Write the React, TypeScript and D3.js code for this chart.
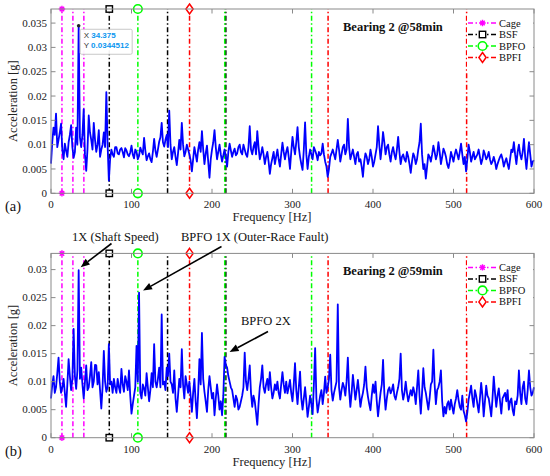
import React from "react";
import * as d3 from "d3";

// FFT bin spacing of both spectra [Hz]
const df = 1.5625;

// envelope spectrum, bearing 2 @58min (values in milli-g)
const accel58_mg = [
  6.1, 10.5, 13.5, 12.0, 16.4, 9.5, 11.0, 12.5, 14.3, 9.0, 7.0, 10.2, 8.8, 7.5, 10.5, 12.0,
  14.0, 9.5, 7.3, 8.5, 13.5, 10.0, 34.4512, 11.5, 9.5, 12.0, 17.3, 8.0, 4.6, 9.0, 16.0, 12.5,
  11.0, 9.0, 14.5, 11.0, 8.5, 10.0, 13.0, 7.5, 9.0, 10.0, 12.5, 9.5, 20.8, 10.0, 2.6, 7.0,
  9.0, 8.0, 7.5, 9.5, 9.5, 8.2, 8.0, 9.0, 9.3, 8.5, 7.4, 9.3, 8.8, 8.0, 7.6, 8.4,
  9.8, 8.0, 7.2, 9.0, 8.5, 7.0, 7.7, 9.4, 8.6, 8.0, 11.4, 8.8, 6.8, 7.6, 8.2, 7.0,
  6.4, 8.5, 11.2, 8.8, 7.5, 9.0, 10.6, 11.5, 14.5, 10.5, 9.6, 11.0, 12.0, 9.5, 17.0, 10.0,
  7.0, 8.5, 9.5, 7.5, 5.8, 8.2, 11.0, 9.0, 14.5, 10.0, 7.6, 8.5, 10.0, 9.0, 8.0, 6.8,
  4.5, 7.0, 9.5, 8.0, 6.5, 9.0, 10.5, 8.5, 12.8, 9.0, 6.0, 8.2, 9.8, 6.5, 3.2, 7.0,
  9.0, 10.5, 13.0, 9.5, 7.0, 8.5, 10.0, 8.0, 6.5, 7.8, 9.0, 7.5, 5.5, 8.5, 10.2, 8.8,
  7.5, 8.5, 9.2, 7.8, 8.2, 9.5, 10.0, 8.5, 8.0, 10.0, 9.0, 8.0, 7.5, 9.5, 13.8, 9.0,
  8.0, 9.5, 10.5, 8.0, 12.8, 9.5, 7.0, 8.0, 9.5, 8.0, 6.0, 7.5, 8.5, 6.5, 4.0, 6.0,
  7.2, 8.5, 6.0, 7.5, 9.0, 7.0, 5.5, 8.0, 10.4, 8.5, 7.0, 8.5, 9.5, 7.5, 5.0, 8.5,
  11.6, 9.5, 8.0, 10.5, 13.6, 9.5, 7.5, 6.0, 4.8, 9.0, 14.6, 8.0, 5.0, 7.5, 9.0, 8.0,
  7.0, 9.5, 8.8, 8.0, 6.8, 8.5, 7.8, 8.2, 10.2, 8.0, 6.5, 5.5, 3.4, 5.0, 7.5, 8.2,
  9.0, 8.0, 7.0, 9.0, 11.0, 9.0, 6.5, 8.0, 9.5, 10.0, 8.0, 9.0, 15.3, 9.5, 7.0, 8.0,
  9.0, 7.5, 6.0, 8.0, 8.5, 6.5, 7.0, 5.5, 3.4, 6.5, 8.2, 7.5, 6.0, 7.0, 9.0, 7.5,
  5.5, 6.5, 8.0, 9.5, 13.8, 10.0, 7.0, 9.5, 12.6, 10.5, 8.0, 9.5, 10.0, 8.0, 6.5, 8.5,
  9.5, 8.0, 7.0, 9.0, 11.6, 8.5, 6.0, 7.5, 8.0, 7.0, 6.5, 8.5, 7.5, 6.0, 4.2, 6.5,
  8.2, 7.5, 6.0, 7.0, 9.0, 10.5, 14.3, 8.0, 5.0, 6.0, 3.0, 5.5, 8.0, 7.5, 6.5, 8.0,
  9.8, 8.5, 7.0, 8.0, 10.5, 8.5, 6.0, 7.5, 9.2, 8.5, 7.5, 6.0, 5.2, 6.5, 8.5, 7.5,
  6.5, 8.0, 9.0, 8.0, 7.0, 8.5, 10.2, 8.0, 6.0, 7.5, 4.5, 7.0, 10.0, 8.5, 6.5, 7.5,
  8.5, 7.0, 7.5, 8.0, 9.0, 7.5, 6.0, 7.0, 8.8, 8.0, 7.0, 7.5, 8.5, 7.0, 6.0, 6.5,
  7.5, 6.5, 5.0, 6.0, 6.8, 7.5, 8.0, 7.0, 5.5, 6.5, 7.2, 6.0, 5.0, 7.0, 9.0, 8.5,
  10.5, 8.0, 6.0, 8.5, 10.0, 8.0, 7.0, 8.5, 11.2, 7.5, 5.0, 8.0, 10.5, 8.0, 5.5, 6.5,
  6.8,
];

// envelope spectrum, bearing 2 @59min (values in milli-g)
const accel59_mg = [
  7.0, 9.5, 11.0, 8.0, 9.0, 11.5, 14.3, 10.0, 8.0, 9.0, 10.5, 8.0, 5.5, 9.5, 14.0, 11.0,
  8.5, 10.5, 19.4, 11.0, 8.7, 12.0, 29.9, 10.5, 12.5, 9.5, 7.0, 10.0, 12.9, 8.5, 9.0, 11.0,
  13.5, 9.0, 10.0, 13.0, 12.9, 9.5, 11.7, 8.5, 5.2, 9.0, 15.5, 10.0, 8.2, 9.0, 16.7, 9.5,
  10.0, 8.0, 10.5, 9.0, 8.0, 10.5, 9.0, 8.0, 12.3, 9.5, 8.2, 11.0, 10.0, 8.5, 12.0, 7.5,
  4.3, 6.0, 7.5, 9.0, 16.4, 10.0, 25.9, 8.0, 7.0, 9.5, 8.8, 7.5, 11.5, 9.0, 6.5, 8.5,
  11.5, 9.0, 16.7, 10.0, 9.0, 10.5, 12.5, 9.0, 22.0, 9.5, 10.0, 8.5, 12.5, 11.0, 15.0, 10.0,
  9.5, 8.0, 12.0, 7.0, 4.6, 7.5, 10.5, 9.0, 15.8, 9.5, 7.0, 11.0, 9.5, 8.0, 10.0, 7.5,
  4.6, 8.0, 10.5, 6.5, 3.5, 8.0, 14.0, 9.5, 18.7, 10.5, 8.2, 6.5, 4.6, 8.5, 11.0, 9.0,
  7.0, 8.0, 4.0, 7.0, 9.5, 7.5, 5.0, 6.5, 4.0, 7.5, 14.4, 13.0, 12.5, 11.0, 10.0, 9.0,
  8.5, 7.0, 5.5, 7.5, 6.8, 5.0, 5.5, 6.5, 7.5, 9.0, 15.2, 10.0, 8.5, 10.5, 12.9, 8.0,
  5.5, 7.5, 6.5, 4.5, 2.3, 6.0, 9.0, 10.5, 12.9, 9.0, 8.0, 9.5, 10.5, 8.5, 11.7, 9.0,
  7.0, 8.0, 9.5, 8.5, 10.0, 8.0, 7.0, 9.5, 11.7, 9.5, 8.0, 10.0, 7.9, 9.0, 10.3, 8.0,
  6.5, 9.5, 13.3, 8.5, 6.0, 9.0, 11.8, 7.0, 5.0, 7.0, 9.0, 6.5, 3.7, 5.5, 7.5, 6.0,
  4.2, 9.5, 16.0, 7.0, 4.5, 6.0, 7.5, 8.5, 6.0, 8.0, 10.9, 8.0, 9.0, 10.5, 14.8, 8.5,
  6.6, 8.0, 9.0, 10.0, 23.8, 9.0, 6.8, 8.5, 9.8, 9.0, 7.5, 10.0, 14.3, 8.5, 5.5, 8.0,
  11.2, 9.0, 6.8, 8.5, 10.3, 8.0, 5.5, 7.0, 8.0, 9.5, 12.7, 9.0, 7.3, 6.0, 4.9, 7.5,
  9.5, 8.0, 10.0, 6.5, 3.8, 6.0, 8.0, 9.5, 13.9, 8.0, 5.0, 7.0, 8.5, 9.0, 7.9, 8.5,
  9.5, 7.5, 6.8, 8.0, 9.0, 10.5, 15.0, 8.5, 6.8, 8.0, 10.0, 8.0, 6.5, 7.5, 8.5, 7.5,
  9.0, 8.0, 6.0, 9.0, 12.0, 7.5, 4.3, 8.0, 12.4, 9.0, 8.0, 6.5, 5.0, 7.0, 9.5, 10.0,
  15.7, 9.5, 6.0, 8.5, 9.0, 10.0, 12.0, 6.5, 3.8, 5.5, 4.3, 6.0, 6.5, 5.0, 6.8, 5.5,
  4.3, 6.0, 7.0, 8.5, 6.8, 5.5, 5.0, 7.5, 4.8, 4.0, 2.9, 4.5, 6.8, 8.0, 9.3, 7.0,
  5.5, 8.5, 7.5, 6.0, 4.5, 7.0, 9.8, 7.5, 3.8, 6.5, 9.3, 7.5, 7.0, 5.5, 3.8, 7.0,
  10.9, 8.0, 5.5, 7.5, 8.8, 6.5, 4.3, 7.0, 7.5, 8.0, 6.5, 8.5, 5.0, 6.5, 7.0, 5.0,
  4.0, 6.5, 6.0, 7.5, 12.0, 8.0, 6.0, 9.0, 10.0, 7.0, 6.0, 8.5, 12.0, 9.0, 7.5, 8.0,
  9.0,
];

const xTicks = [0, 100, 200, 300, 400, 500, 600];
const yTicks58 = [0, 0.005, 0.01, 0.015, 0.02, 0.025, 0.03, 0.035];
const yTicks59 = [0, 0.005, 0.01, 0.015, 0.02, 0.025, 0.03];

// characteristic bearing defect frequencies and harmonics [Hz]
const faultNames = ["Cage", "BSF", "BPFO", "BPFI"];
const faultFreqs = [
  [13.6, 27.2, 40.8],
  [72.4, 144.8, 217.2],
  [107.9, 215.8, 323.7],
  [172.1, 344.2, 516.3],
];
const faultColors = ["#ff00ff", "#000000", "#00ff00", "#ff0000"];
const faultMarkers = ["star", "square", "circle", "diamond"];

const SERIF = "Liberation Serif";
const DASHDOT = "5,2.5,1.5,2.5";

function Marker({ kind, cx, cy, color }) {
  if (kind === "square")
    return <rect x={cx - 3.2} y={cy - 3.2} width={6.4} height={6.4} fill="white" stroke={color} strokeWidth={1.4} />;
  if (kind === "circle")
    return <circle cx={cx} cy={cy} r={4.3} fill="white" stroke={color} strokeWidth={1.6} />;
  if (kind === "diamond")
    return <path d={`M${cx},${cy - 5}L${cx + 3.6},${cy}L${cx},${cy + 5}L${cx - 3.6},${cy}Z`} fill="white" stroke={color} strokeWidth={1.5} />;
  const r = 3.2;
  const d = r * 0.7;
  return (
    <path
      d={`M${cx - r},${cy}L${cx + r},${cy}M${cx},${cy - r}L${cx},${cy + r}M${cx - d},${cy - d}L${cx + d},${cy + d}M${cx - d},${cy + d}L${cx + d},${cy - d}`}
      stroke={color}
      strokeWidth={1.4}
    />
  );
}

function Arrow({ x1, y1, x2, y2 }) {
  const ang = Math.atan2(y2 - y1, x2 - x1);
  const len = 9, half = 3.6;
  const bx = x2 - len * Math.cos(ang), by = y2 - len * Math.sin(ang);
  const px = -Math.sin(ang) * half, py = Math.cos(ang) * half;
  return (
    <g>
      <line x1={x1} y1={y1} x2={bx} y2={by} stroke="black" strokeWidth={1.6} />
      <path d={`M${x2},${y2}L${bx + px},${by + py}L${bx - px},${by - py}Z`} fill="black" />
    </g>
  );
}

function Panel({ top, data, yTicks, title, tag, children }) {
  const left = 51, right = 534, h = 184.3;
  const bottom = top + h;
  const x = d3.scaleLinear().domain([0, 600]).range([left, right]);
  const yMax = 1.1 * d3.max(data);
  const y = d3.scaleLinear().domain([0, yMax]).range([bottom, top]);
  const line = d3
    .line<number>()
    .x((d, i) => x(i * df))
    .y((d) => y(d));
  const tl = 4.5;

  return (
    <g>
      {/* fault frequency markers */}
      {faultFreqs.map((fs, k) =>
        fs.map((f, j) => (
          <line key={k + "-" + j} x1={x(f)} x2={x(f)} y1={bottom} y2={top} stroke={faultColors[k]} strokeWidth={1.5} strokeDasharray={DASHDOT} />
        ))
      )}
      <path d={line(data)} fill="none" stroke="#0000ff" strokeWidth={1.8} strokeLinejoin="round" />
      {faultFreqs.map((fs, k) => (
        <g key={"m" + k}>
          <Marker kind={faultMarkers[k]} cx={x(fs[0])} cy={top} color={faultColors[k]} />
          <Marker kind={faultMarkers[k]} cx={x(fs[0])} cy={bottom} color={faultColors[k]} />
        </g>
      ))}

      {/* axes box and ticks */}
      <rect x={left} y={top} width={right - left} height={h} fill="none" stroke="#8a8a8a" strokeWidth={1} />
      {xTicks.map((t) => (
        <g key={"x" + t}>
          <line x1={x(t)} x2={x(t)} y1={bottom} y2={bottom - tl} stroke="#8a8a8a" />
          <line x1={x(t)} x2={x(t)} y1={top} y2={top + tl} stroke="#8a8a8a" />
          <text x={x(t)} y={bottom + 15} fontFamily={SERIF} fontSize={11} textAnchor="middle" fill="#222">{t}</text>
        </g>
      ))}
      {yTicks.map((t) => (
        <g key={"y" + t}>
          <line x1={left} x2={left + tl} y1={y(t)} y2={y(t)} stroke="#8a8a8a" />
          <line x1={right} x2={right - tl} y1={y(t)} y2={y(t)} stroke="#8a8a8a" />
          <text x={left - 4} y={y(t) + 3.6} fontFamily={SERIF} fontSize={11} textAnchor="end" fill="#222">{t}</text>
        </g>
      ))}
      <text x={272} y={bottom + 28} fontFamily={SERIF} fontSize={12.5} textAnchor="middle" fill="#222">Frequency [Hz]</text>
      <text transform={`translate(17,${(top + bottom) / 2}) rotate(-90)`} fontFamily={SERIF} fontSize={12.5} textAnchor="middle" fill="#222">Acceleration [g]</text>
      <text x={5} y={bottom + 18} fontFamily={SERIF} fontSize={14.5} fill="#111">{tag}</text>
      <text x={343} y={top + 22} fontFamily={SERIF} fontSize={12.5} fontWeight="bold" fill="#111">{title}</text>

      {/* legend */}
      <rect x={467} y={top + 6} width={66} height={56} fill="white" />
      {faultNames.map((n, k) => {
        const ly = top + 14 + k * 11.5;
        return (
          <g key={"l" + n}>
            <line x1={468} x2={497} y1={ly} y2={ly} stroke={faultColors[k]} strokeWidth={1.5} strokeDasharray={DASHDOT} />
            <Marker kind={faultMarkers[k]} cx={482.5} cy={ly} color={faultColors[k]} />
            <text x={499} y={ly + 3.5} fontFamily={SERIF} fontSize={10.5} fill="#111">{n}</text>
          </g>
        );
      })}
      {children && children(x, y)}
    </g>
  );
}

export default function App() {
  const d58 = accel58_mg.map((v) => v / 1000);
  const d59 = accel59_mg.map((v) => v / 1000);
  const iPeak58 = d3.maxIndex(d58);
  const i1x = d3.maxIndex(d59);
  const iBpfo1 = d3.maxIndex(d59.slice(60, 80)) + 60;
  const iBpfo2 = 138;

  return (
    <svg width={550} height={476} style={{ position: "absolute", left: 0, top: 0, background: "white" }}>
      <Panel top={9} data={d58} yTicks={yTicks58} title="Bearing 2 @58min" tag="(a)">
        {(x, y) => {
          const px = x(iPeak58 * df), py = y(d58[iPeak58]);
          return (
            <g fontFamily="Liberation Sans" fontSize={8}>
              <rect x={px + 1.5} y={py + 3.5} width={52} height={25} rx={1.5} fill="white" fillOpacity={0.95} stroke="#c8c8c8" />
              <circle cx={px} cy={py} r={1.8} fill="#222" />
              <text x={px + 5} y={py + 12.5} fill="#333">X <tspan fontWeight="bold" fill="#0a96f0">{iPeak58 * df}</tspan></text>
              <text x={px + 5} y={py + 22.5} fill="#333">Y <tspan fontWeight="bold" fill="#0a96f0">{d58[iPeak58]}</tspan></text>
            </g>
          );
        }}
      </Panel>
      <Panel top={253.4} data={d59} yTicks={yTicks59} title="Bearing 2 @59min" tag="(b)">
        {(x, y) => (
          <g fontFamily={SERIF} fontSize={12.5} fill="#111">
            <text x={72} y={241}>1X (Shaft Speed)</text>
            <text x={181} y={241}>BPFO 1X (Outer-Race Fault)</text>
            <text x={241} y={324.5}>BPFO 2X</text>
            <Arrow x1={111.5} y1={243.5} x2={x(i1x * df) + 2} y2={y(d59[i1x]) - 3} />
            <Arrow x1={221.5} y1={246.5} x2={x(iBpfo1 * df) + 4} y2={y(d59[iBpfo1]) - 2} />
            <Arrow x1={268} y1={331.5} x2={x(iBpfo2 * df) + 5} y2={y(d59[iBpfo2]) - 5} />
          </g>
        )}
      </Panel>
    </svg>
  );
}
